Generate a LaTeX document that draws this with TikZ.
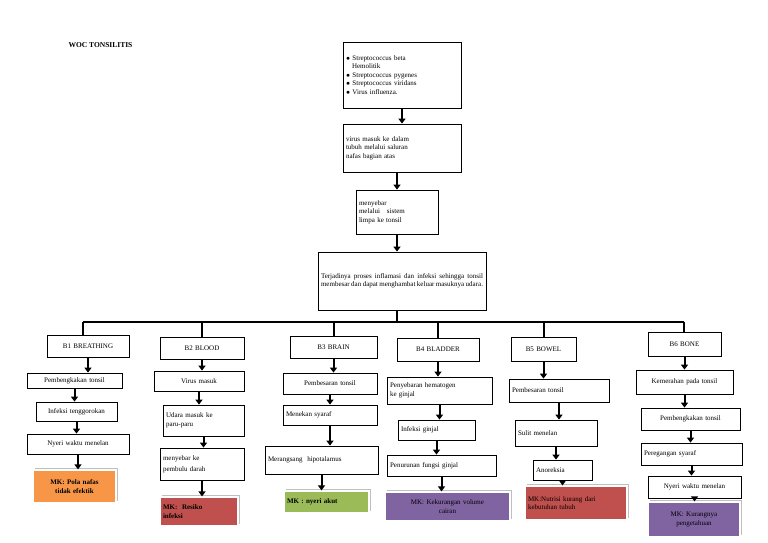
\documentclass[tikz,border=0pt]{standalone}
\usepackage{fontspec}
\setmainfont{Liberation Serif}
\usetikzlibrary{arrows.meta,shadows}
\definecolor{cor}{HTML}{F79646}
\definecolor{cred}{HTML}{C0504D}
\definecolor{cgr}{HTML}{9BBB59}
\definecolor{cpu}{HTML}{8064A2}
\tikzset{
 box/.style={draw,line width=0.8pt,inner sep=2pt,font=\fontsize{7}{8.5}\selectfont},
 mk/.style={box,draw=white,line width=1.2pt,drop shadow={shadow xshift=2pt,shadow yshift=2pt,fill=black!25,opacity=1}},
 arr/.style={line width=2pt,-{Triangle[length=5pt,width=7pt]}},
 bus/.style={line width=2pt}
}
\newcommand\bx[7][]{\node[box,#1,minimum width={(#5-#3)*1pt},minimum height={(#6-#4)*1pt},text width={(#5-#3-6)*1pt}] (#2) at ({(#3+#5)/2},{(#4+#6)/2}) {#7};}
\begin{document}
\begin{tikzpicture}[x=1pt,y=-1pt]
\useasboundingbox (0,0) rectangle (768,543);
\node[font=\bfseries\fontsize{7.5}{9}\selectfont,anchor=west] (title) at (65,45) {WOC TONSILITIS};
\bx[align=left]{t1}{343}{42}{461}{108}{$\bullet$ Streptococcus beta\\\hspace*{6pt}Hemolitik\\$\bullet$ Streptococcus pygenes\\$\bullet$ Streptococcus viridans\\$\bullet$ Virus influenza.}
\bx[align=left]{t2}{343}{124}{461}{172}{virus masuk ke dalam\\tubuh melalui saluran\\nafas bagian atas}
\bx[align=left]{t3}{356}{190}{438}{234}{menyebar\\melalui\ \ \ sistem\\limpa ke tonsil}
\bx[align=justify]{t4}{318}{252}{486}{310}{Terjadinya proses inflamasi dan infeksi sehingga tonsil membesar dan dapat menghambat keluar masuknya udara.}
\draw[arr] (t1) -- (t2);
\draw[arr] (t2.south -| t3) -- (t3);
\draw[arr] (t3) -- (t4.north -| t3);
\coordinate (bl) at (83,322); \coordinate (br) at (684,322);
\draw[bus] (t4.south -| t3) -- (t3 |- bl);
\draw[bus] (bl) -- (br);
% B headers
\bx[align=center]{b1}{47}{335}{129}{357}{B1 BREATHING}
\bx[align=center]{b2}{160}{337}{244}{359}{B2 BLOOD}
\bx[align=center]{b3}{290}{336}{377}{358}{B3 BRAIN}
\bx[align=center]{b4}{397}{338}{479}{361}{B4 BLADDER}
\bx[align=center]{b5}{511}{337}{576}{361}{B5 BOWEL}
\bx[align=center]{b6}{648}{332}{721}{356}{B6 BONE}
\foreach \b in {b1,b2,b3,b4,b5,b6}{\draw[bus] (\b.north -| bl) ++(0,0);}
\draw[bus] (bl) -- (b1.north -| bl);
\draw[bus] (b2.north |- bl) -- (b2.north);
\draw[bus] (b3.north |- bl) -- (b3.north);
\draw[bus] (b4.north |- bl) -- (b4.north);
\draw[bus] (b5.north |- bl) -- (b5.north);
\draw[bus] (br) -- (br |- b6.north) -- (b6.north -| br);
% B1
\bx[align=center]{c11}{27}{373}{122}{388}{Pembengkakan tonsil}
\bx[align=center]{c12}{36}{402}{117}{421}{Infeksi tenggorokan}
\bx[align=center]{c13}{27}{434}{129}{454}{Nyeri waktu menelan}
\bx[mk,fill=cor,align=center,font=\bfseries\fontsize{7}{8.5}\selectfont]{m1}{33}{470}{116}{503}{MK: Pola nafas\\tidak efektik}
% B2
\bx[align=center]{c21}{154}{371}{244}{391}{Virus masuk}
\bx[align=left]{c22}{163}{405}{244}{436}{Udara masuk ke\\paru-paru}
\bx[align=left,font=\fontsize{7}{11}\selectfont]{c23}{160}{448}{244}{480}{menyebar ke\\pembulu darah}
\bx[mk,fill=cred,align=left,font=\bfseries\fontsize{7}{8.5}\selectfont]{m2}{160}{497}{238}{526}{MK:\ \ Resiko\\infeksi}
% B3
\bx[align=center]{c31}{283}{373}{377}{394}{Pembesaran tonsil}
\bx[align=left]{c32}{283}{405}{377}{425}{Menekan syaraf}
\bx[align=left]{c33}{265}{446}{378}{474}{Merangsang\ \ hipotalamus\\[6pt]}
\bx[mk,fill=cgr,align=left,font=\bfseries\fontsize{7}{8.5}\selectfont]{m3}{284}{491}{369}{513}{MK : nyeri akut}
% B4
\bx[align=left]{c41}{387}{377}{492}{404}{Penyebaran hematogen\\ke ginjal}
\bx[align=left]{c42}{398}{420}{475}{440}{Infeksi ginjal}
\bx[align=left]{c43}{387}{455}{496}{476}{Penurunan fungsi ginjal}
\bx[mk,fill=cpu,align=center]{m4}{385}{492}{510}{521}{MK: Kekurangan volume\\cairan}
% B5
\bx[align=left]{c51}{509}{379}{609}{402}{Pembesaran tonsil}
\bx[align=left]{c52}{515}{420}{597}{446}{Sulit menelan\\[4pt]}
\bx[align=left]{c53}{533}{460}{592}{480}{Anoreksia}
\bx[mk,fill=cred,align=left]{m5}{525}{486}{627}{520}{MK:Nutrisi kurang dari\\kebutuhan tubuh}
% B6
\bx[align=center]{c61}{636}{370}{733}{394}{Kemerahan pada tonsil}
\bx[align=center]{c62}{641}{408}{740}{430}{Pembengkakan tonsil}
\bx[align=left]{c63}{641}{443}{742}{465}{Peregangan syaraf}
\bx[align=center]{c64}{648}{476}{741}{498}{Nyeri waktu menelan}
\bx[mk,fill=cpu,align=center]{m6}{648}{502}{740}{537}{MK: Kurangnya\\pengetahuan}
% arrows
\foreach \a/\b in {b1/c11,c11/c12,c12/c13,c13/m1,b2/c21,c21/c22,c22/c23,c23/m2,b3/c31,c31/c32,c32/c33,c33/m3,b4/c41,c41/c42,c42/c43,c43/m4,b5/c51,c51/c52,c52/c53,c53/m5,b6/c61,c61/c62,c62/c63,c63/c64,c64/m6}
  {\draw[arr] (\a.south) -- (\a.south |- \b.north);}
\end{tikzpicture}
\end{document}
